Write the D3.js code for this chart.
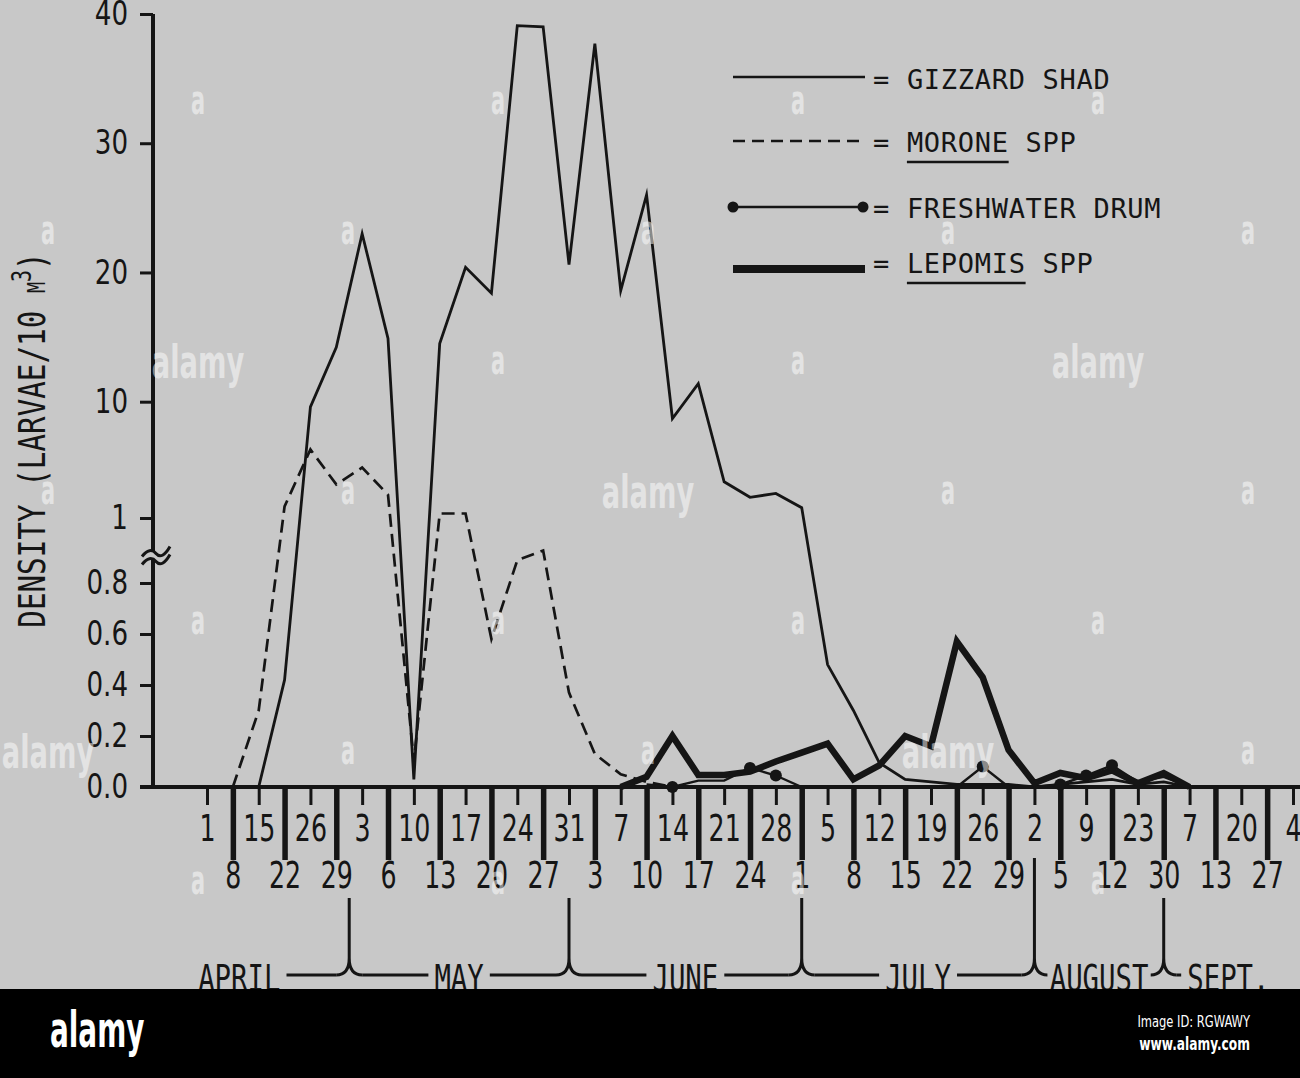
<!DOCTYPE html>
<html>
<head>
<meta charset="utf-8">
<script src="https://cdn.jsdelivr.net/npm/d3@7"></script>
<style>
  html, body { margin: 0; padding: 0; background: #c8c8c8; }
  svg { display: block; }
</style>
</head>
<body>
<svg width="1300" height="1078"></svg>
<script>
// sampling dates, one per sample (evenly spaced on the axis)
const sampleLabels = ["1","8","15","22","26","29","3","6","10","13","17","20","24","27","31",
  "3","7","10","14","17","21","24","28","1","5","8","12","15","19","22","26","29",
  "2","5","9","12","23","30","7","13","20","27","4"];

// larvae / 10 m3, null = not plotted
const gizzardShad = [null, null, 0.0, 0.42, 9.6, 14.2, 23.0, 14.9, 0.03, 14.5, 20.4, 18.4, 39.1, 39.0,
  20.6, 37.7, 18.6, 26.0, 8.7, 11.4, 3.8, 2.6, 2.9, 1.8, 0.48, 0.3, 0.095, 0.03, 0.02, 0.01,
  0.01, 0.01, 0.0, 0.01, 0.02, 0.03, 0.01, 0.02, 0.0, null, null, null, null];
const moroneSpp = [null, 0.0, 0.3, 1.9, 6.3, 3.6, 4.9, 2.8, 0.1, 1.35, 1.35, 0.58, 0.87, 0.9,
  0.37, 0.13, 0.05, 0.02, 0.0, null, null, null, null, null, null, null, null, null, null, null,
  null, null, null, null, null, null, null, null, null, null, null, null, null];
const freshwaterDrum = [null, null, null, null, null, null, null, null, null, null, null, null, null, null,
  null, null, null, 0.01, 0.0, 0.025, 0.025, 0.075, 0.045, 0.0, 0.0, 0.0, 0.0, 0.0, 0.0, 0.0,
  0.08, 0.0, 0.0, 0.01, 0.045, 0.085, 0.02, 0.04, 0.0, null, null, null, null];
const lepomisSpp = [null, null, null, null, null, null, null, null, null, null, null, null, null, null,
  null, null, 0.0, 0.04, 0.2, 0.047, 0.047, 0.06, 0.1, 0.135, 0.17, 0.03, 0.085, 0.2, 0.16, 0.57,
  0.43, 0.145, 0.015, 0.055, 0.035, 0.065, 0.015, 0.055, 0.0, null, null, null, null];
const drumDots = [18, 21, 22, 30, 33, 34, 35];

const yTicks = [0, 0.2, 0.4, 0.6, 0.8, 1, 10, 20, 30, 40];
const months = ["APRIL", "MAY", "JUNE", "JULY", "AUGUST", "SEPT."];
const monthBounds = [-3, 5.5, 14, 23, 32, 37, 42];
const legendLabels = ["GIZZARD SHAD", "MORONE SPP", "FRESHWATER DRUM", "LEPOMIS SPP"];
const legendUnderline = ["", "MORONE", "", "LEPOMIS"];

const svg = d3.select("svg");
const ink = "#151515";
const bg = "#c8c8c8";
const numFont = "'DejaVu Sans Condensed', 'DejaVu Sans', sans-serif";
const monoFont = "'DejaVu Sans Mono', monospace";

svg.append("rect").attr("width", 1300).attr("height", 1078).attr("fill", bg);

const x = d3.scaleLinear().domain([0, sampleLabels.length - 1]).range([207, 1293]);
// broken axis: 0-0.8 on a stretched lower scale, 1-40 above the break
const y = d3.scaleLinear().domain([0, 0.8, 1, 40]).range([787, 583, 518, 14]);
const axisX = 153;

// y axis
const yAxis = svg.append("g")
    .attr("transform", `translate(${axisX},0)`)
    .call(d3.axisLeft(y).tickValues(yTicks)
        .tickFormat(v => v < 1 ? v.toFixed(1) : String(v))
        .tickSize(13).tickSizeOuter(0));
yAxis.select(".domain").remove();
yAxis.selectAll(".tick line").attr("stroke", ink).attr("stroke-width", 3);
yAxis.selectAll(".tick text")
    .attr("fill", ink).attr("font-family", numFont).attr("font-size", 33)
    .attr("x", 0).attr("transform", "translate(-25,0) scale(0.88,1)");

// x axis: short ticks with top row labels, long ticks with bottom row labels
const evens = d3.range(0, sampleLabels.length, 2);
const odds = d3.range(1, sampleLabels.length, 2);
[[evens, 18, 10, 3], [odds, 73, 2, 5.5]].forEach(([vals, size, pad, w]) => {
    const g = svg.append("g")
        .attr("transform", `translate(0,${y(0)})`)
        .call(d3.axisBottom(x).tickValues(vals).tickFormat(i => sampleLabels[i])
            .tickSize(size).tickPadding(pad).tickSizeOuter(0));
    g.select(".domain").remove();
    g.selectAll(".tick line").attr("stroke", ink).attr("stroke-width", w);
    g.selectAll(".tick text")
        .attr("fill", ink).attr("font-family", numFont).attr("font-size", 37)
        .attr("transform", "scale(0.76,1)");
});

svg.append("line")
    .attr("x1", axisX).attr("x2", axisX).attr("y1", y(40)).attr("y2", y(0) + 2)
    .attr("stroke", ink).attr("stroke-width", 4);
svg.append("line")
    .attr("x1", 140).attr("x2", 1300).attr("y1", y(0)).attr("y2", y(0))
    .attr("stroke", ink).attr("stroke-width", 4);

// axis break mark
const by = (y(0.8) + y(1)) / 2 + 6;
svg.append("rect").attr("x", axisX - 4).attr("y", by - 5).attr("width", 8).attr("height", 8).attr("fill", bg);
[-4, 4].forEach(off => {
    svg.append("path")
        .attr("d", `M${axisX - 11},${by + off + 4} q8,-10 14,-3 t14,-7`)
        .attr("fill", "none").attr("stroke", ink).attr("stroke-width", 3);
});

// y title
const title = svg.append("text")
    .attr("transform", `translate(45,440) rotate(-90) scale(0.77,1)`)
    .attr("text-anchor", "middle")
    .attr("font-family", monoFont).attr("font-size", 38).attr("fill", ink);
title.append("tspan").text("DENSITY (LARVAE/10 ");
title.append("tspan").attr("font-size", 24).text("M");
title.append("tspan").attr("font-size", 26).attr("dy", -14).text("3");
title.append("tspan").attr("dy", 14).text(")");

// series
const line = d3.line()
    .defined(d => d.v != null)
    .x(d => x(d.i))
    .y(d => y(d.v));
const pts = arr => arr.map((v, i) => ({ i, v }));

const series = [
    { values: gizzardShad, width: 2.8, dash: null },
    { values: moroneSpp, width: 2.7, dash: "13,7" },
    { values: freshwaterDrum, width: 2.4, dash: null },
    { values: lepomisSpp, width: 6.5, dash: null }
];
series.forEach(s => {
    svg.append("path")
        .datum(pts(s.values))
        .attr("d", line)
        .attr("fill", "none")
        .attr("stroke", ink)
        .attr("stroke-width", s.width)
        .attr("stroke-linejoin", "miter")
        .attr("stroke-miterlimit", 8)
        .attr("stroke-dasharray", s.dash);
});
svg.selectAll("circle.drum")
    .data(drumDots)
    .enter().append("circle")
    .attr("class", "drum")
    .attr("cx", i => x(i))
    .attr("cy", i => y(freshwaterDrum[i]))
    .attr("r", 6)
    .attr("fill", ink);

// months with brackets
const monthY = 991, braceY = 975;
months.forEach((m, k) => {
    const cx = x((monthBounds[k] + monthBounds[k + 1]) / 2);
    const t = svg.append("text")
        .attr("transform", `translate(${cx},${monthY}) scale(0.72,1)`)
        .attr("text-anchor", "middle")
        .attr("font-family", monoFont).attr("font-size", 38).attr("fill", ink)
        .text(m);
    const half = t.node().getComputedTextLength() * 0.72 / 2;
    const segs = [];
    if (k > 0) segs.push([x(monthBounds[k]) + 13, cx - half - 6]);
    if (k < months.length - 1) segs.push([cx + half + 6, x(monthBounds[k + 1]) - 13]);
    segs.filter(s => s[1] - s[0] > 2).forEach(s => {
        svg.append("line")
            .attr("x1", s[0]).attr("x2", s[1]).attr("y1", braceY).attr("y2", braceY)
            .attr("stroke", ink).attr("stroke-width", 3);
    });
});
monthBounds.slice(1, -1).forEach(b => {
    const bx = x(b);
    const top = b === 32 ? 858 : 898;
    svg.append("path")
        .attr("d", `M${bx},${top} V958 Q${bx},${braceY} ${bx - 13},${braceY} M${bx},958 Q${bx},${braceY} ${bx + 13},${braceY}`)
        .attr("fill", "none").attr("stroke", ink).attr("stroke-width", 3);
});

// legend
const legY = [77, 141, 207, 269];
const legBase = [89, 152, 218, 273];
legendLabels.forEach((lab, k) => {
    const ly = legY[k];
    if (k === 2) {
        svg.append("line").attr("x1", 733).attr("x2", 863).attr("y1", ly).attr("y2", ly)
            .attr("stroke", ink).attr("stroke-width", 2.6);
        [733, 863].forEach(cx => svg.append("circle").attr("cx", cx).attr("cy", ly).attr("r", 5.5).attr("fill", ink));
    } else {
        svg.append("line").attr("x1", 733).attr("x2", 865).attr("y1", ly).attr("y2", ly)
            .attr("stroke", ink)
            .attr("stroke-width", k === 3 ? 8 : 2.6)
            .attr("stroke-dasharray", k === 1 ? "12,7" : null);
    }
    const t = svg.append("text")
        .attr("x", 873).attr("y", legBase[k])
        .attr("font-family", monoFont).attr("font-size", 27)
        .attr("letter-spacing", 0.7).attr("fill", ink)
        .text("= " + lab);
    const u = legendUnderline[k];
    if (u) {
        const start = 2 + lab.indexOf(u);
        const node = t.node();
        const x0 = node.getStartPositionOfChar(start).x;
        const x1 = node.getEndPositionOfChar(start + u.length - 1).x;
        svg.append("line")
            .attr("x1", x0).attr("x2", x1)
            .attr("y1", legBase[k] + 10).attr("y2", legBase[k] + 10)
            .attr("stroke", ink).attr("stroke-width", 2.4);
    }
});

// stock photo watermark
const wmFont = "'DejaVu Sans Condensed', 'DejaVu Sans', sans-serif";
const bigSpots = ["1,2", "7,2", "4,3", "0,5", "6,5"];
for (let k = 0; k < 7; k++) {
    for (let m = 0; m < 9; m++) {
        if ((m + k) % 2 !== 1) continue;
        const cx = 48 + 150 * m, cy = 103 + 130 * k;
        const big = bigSpots.includes(m + "," + k);
        svg.append("text")
            .attr("transform", `translate(${cx},${cy + (big ? 15 : 11)}) scale(${big ? 0.66 : 0.58},1)`)
            .attr("text-anchor", "middle")
            .attr("font-family", wmFont).attr("font-weight", "bold")
            .attr("font-size", big ? 46 : 40)
            .attr("fill", "#fff").attr("fill-opacity", 0.5)
            .text(big ? "alamy" : "a");
    }
}

// bottom banner
svg.append("rect").attr("x", 0).attr("y", 989).attr("width", 1300).attr("height", 89).attr("fill", "#000");
svg.append("text")
    .attr("transform", "translate(50,1047) scale(0.62,1)")
    .attr("font-family", wmFont).attr("font-weight", "bold").attr("font-size", 50)
    .attr("fill", "#fff").text("alamy");
svg.append("text")
    .attr("transform", "translate(1250,1027) scale(0.8,1)")
    .attr("text-anchor", "end")
    .attr("font-family", wmFont).attr("font-size", 16).attr("fill", "#fff")
    .text("Image ID: RGWAWY");
svg.append("text")
    .attr("transform", "translate(1250,1050) scale(0.8,1)")
    .attr("text-anchor", "end")
    .attr("font-family", wmFont).attr("font-weight", "bold").attr("font-size", 17).attr("fill", "#fff")
    .text("www.alamy.com");
</script>
</body>
</html>
